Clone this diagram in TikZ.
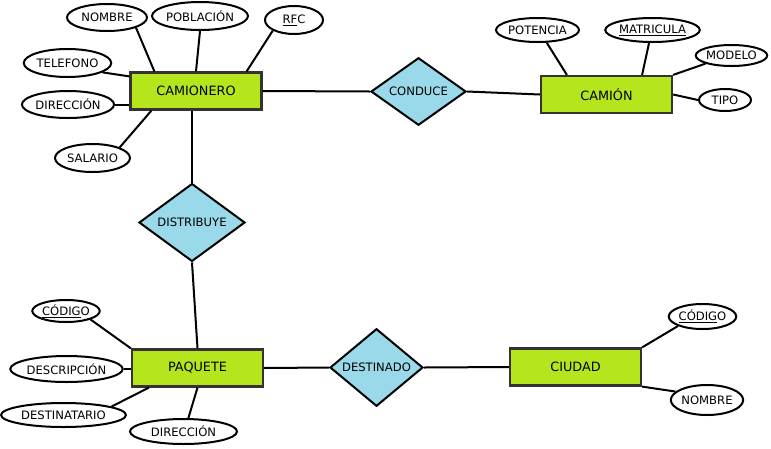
\documentclass[tikz,border=0pt]{standalone}
\usepackage{fontspec}
\setmainfont{DejaVu Sans}
\usepackage{tikz}
\usetikzlibrary{shapes.geometric}

\definecolor{entgreen}{RGB}{181,230,29}
\definecolor{relblue}{RGB}{153,217,234}

\begin{document}
\begin{tikzpicture}[x=1pt,y=-1pt,line width=2pt,
        entity/.style={rectangle,draw=black!80,fill=entgreen,line width=2.2pt,
            minimum width=131pt,minimum height=37pt,inner sep=0pt,
            font=\fontsize{12.8}{14}\selectfont},
        relation/.style={diamond,draw,fill=relblue,inner sep=0pt,
            font=\fontsize{11.6}{13}\selectfont},
        attr/.style={ellipse,draw,fill=white,inner sep=0pt,
            minimum width=#1,minimum height=27pt,
            font=\fontsize{11.6}{13}\selectfont}]

      \useasboundingbox (0,0) rectangle (771,448);

      % entidades
      \node[entity] (camionero) at (196,91)    {CAMIONERO};
      \node[entity] (camion)    at (606.5,94.5) {CAMIÓN};
      \node[entity] (paquete)   at (197.5,368) {PAQUETE};
      \node[entity] (ciudad)    at (575.5,367) {CIUDAD};

      % relaciones
      \node[relation,minimum width=95pt,minimum height=51pt]  (conduce)    at (418.5,91.5)  {CONDUCE};
      \node[relation,minimum width=106pt,minimum height=69pt] (distribuye) at (192,222.5)   {DISTRIBUYE};
      \node[relation,minimum width=93pt,minimum height=63pt]  (destinado)  at (376.5,367.5) {DESTINADO};

      % atributos
      \node[attr=80pt]  (nombre)    at (107,17.5)  {NOMBRE};
      \node[attr=82pt,minimum height=28pt] (poblacion) at (200,16) {POBLACIÓN};
      \node[attr=58pt,minimum height=28pt] (rfc)       at (294,20) {\underline{RF}C};
      \node[attr=81pt,minimum height=28pt] (telefono)  at (67.5,63) {TELEFONO};
      \node[attr=92pt]  (direccion) at (68,104.5)  {DIRECCIÓN};
      \node[attr=75pt,minimum height=28pt] (salario)   at (92.5,158) {SALARIO};

      \node[attr=79pt,minimum height=24pt] (potencia)  at (537.5,30)  {POTENCIA};
      \node[attr=89pt,minimum height=24pt] (matricula) at (652.5,30)  {\underline{MATRICULA}};
      \node[attr=71pt,minimum height=21pt] (modelo)    at (731.5,55.5) {MODELO};
      \node[attr=52pt,minimum height=22pt] (tipo)      at (725,100)   {TIPO};

      \node[attr=58pt,minimum height=22pt] (codigo)      at (66,311)     {\underline{CÓDIG}O};
      \node[attr=105pt,minimum height=26pt] (descripcion) at (66.5,369)  {DESCRIPCIÓN};
      \node[attr=125pt,minimum height=24pt] (destinatario) at (63.5,415) {DESTINATARIO};
      \node[attr=107pt,minimum height=25pt] (direccionp)  at (183.5,431.5) {DIRECCIÓN};

      \node[attr=63pt,minimum height=25pt] (codigoc) at (702.5,316.5) {\underline{CÓDIG}O};
      \node[attr=66pt,minimum height=30pt] (nombrec) at (707,400)     {NOMBRE};

      % conectores
      \path (camionero.east) edge (conduce.west)
            (conduce.east) edge (camion.west)
            (distribuye.north |- camionero.south) edge (distribuye.north)
            (distribuye.south) edge (paquete.north)
            (paquete.east) edge (destinado.west)
            (destinado.east) edge (ciudad.west);

      \path (nombre.south east) edge ([xshift=25pt]camionero.north west)
            (poblacion.south) edge (camionero.north)
            (rfc.south west) edge ([xshift=-16pt]camionero.north east)
            (telefono.-15) edge ([yshift=-5pt]camionero.north west)
            (direccion.east) edge (direccion.east -| camionero.west)
            (salario.north east) edge ([xshift=22pt]camionero.south west);

      \path (potencia.-54) edge ([xshift=27pt]camion.north west)
            (matricula.-105) edge ([xshift=-31pt]camion.north east)
            (modelo.south west) edge (camion.north east)
            (tipo.west) edge (camion.east);

      \path (codigo.south east) edge (paquete.north west)
            (descripcion.east) edge (descripcion.east -| paquete.west)
            (destinatario.10) edge ([xshift=18pt]paquete.south west)
            (direccionp.70) edge (paquete.south);

      \path (codigoc.south west) edge (ciudad.north east)
            (nombrec.165) edge (ciudad.south east);
    \end{tikzpicture}
\end{document}
